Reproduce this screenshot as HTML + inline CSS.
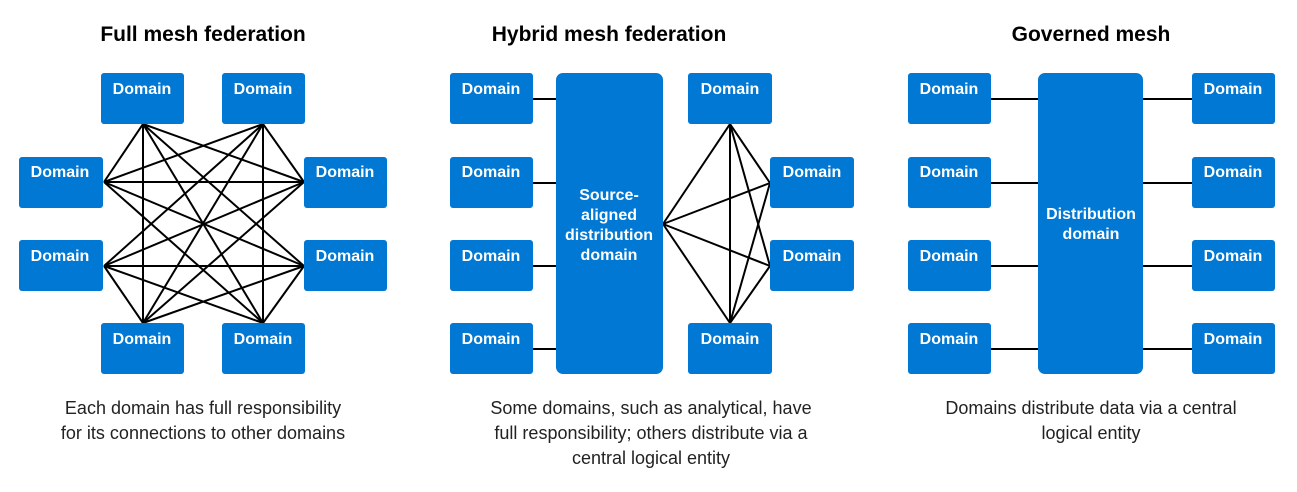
<!DOCTYPE html>
<html><head><style>
body{margin:0;background:#fff;width:1297px;height:492px;overflow:hidden;font-family:"Liberation Sans",sans-serif}
svg{position:absolute;left:0;top:0}
.b{fill:#0078d4}
.t{fill:#fff;font-weight:bold;font-size:16px;text-anchor:middle;font-family:"Liberation Sans",sans-serif}
.h{font-weight:bold;font-size:21px;text-anchor:middle;font-family:"Liberation Sans",sans-serif}
.c{font-size:18px;text-anchor:middle;font-family:"Liberation Sans",sans-serif;fill:#222}
line{stroke:#000;stroke-width:2}
</style></head><body>
<svg width="1297" height="492">
<text class="h" x="203" y="41">Full mesh federation</text>
<text class="h" x="609" y="41">Hybrid mesh federation</text>
<text class="h" x="1091" y="41">Governed mesh</text>
<g>
<line x1="143" y1="124" x2="104" y2="182"/>
<line x1="143" y1="124" x2="304" y2="182"/><line x1="143" y1="124" x2="304" y2="266"/>
<line x1="143" y1="124" x2="143" y2="323"/><line x1="143" y1="124" x2="263" y2="323"/>
<line x1="263" y1="124" x2="104" y2="182"/><line x1="263" y1="124" x2="104" y2="266"/>
<line x1="263" y1="124" x2="304" y2="182"/>
<line x1="263" y1="124" x2="143" y2="323"/><line x1="263" y1="124" x2="263" y2="323"/>
<line x1="104" y1="182" x2="304" y2="182"/><line x1="104" y1="182" x2="304" y2="266"/>
<line x1="104" y1="182" x2="263" y2="323"/>
<line x1="104" y1="266" x2="304" y2="182"/><line x1="104" y1="266" x2="304" y2="266"/>
<line x1="104" y1="266" x2="143" y2="323"/><line x1="104" y1="266" x2="263" y2="323"/>
<line x1="304" y1="182" x2="143" y2="323"/>
<line x1="304" y1="266" x2="143" y2="323"/><line x1="304" y1="266" x2="263" y2="323"/>
</g>
<g>
<rect class="b" x="101" y="73" width="83" height="51" rx="3"/><text class="t" x="142" y="94">Domain</text>
<rect class="b" x="222" y="73" width="83" height="51" rx="3"/><text class="t" x="263" y="94">Domain</text>
<rect class="b" x="19" y="157" width="84" height="51" rx="3"/><text class="t" x="60" y="177">Domain</text>
<rect class="b" x="304" y="157" width="83" height="51" rx="3"/><text class="t" x="345" y="177">Domain</text>
<rect class="b" x="19" y="240" width="84" height="51" rx="3"/><text class="t" x="60" y="261">Domain</text>
<rect class="b" x="304" y="240" width="83" height="51" rx="3"/><text class="t" x="345" y="261">Domain</text>
<rect class="b" x="101" y="323" width="83" height="51" rx="3"/><text class="t" x="142" y="344">Domain</text>
<rect class="b" x="222" y="323" width="83" height="51" rx="3"/><text class="t" x="263" y="344">Domain</text>
</g>
<line x1="533" y1="99" x2="557" y2="99"/><line x1="533" y1="183" x2="557" y2="183"/>
<line x1="533" y1="266" x2="557" y2="266"/><line x1="533" y1="349" x2="557" y2="349"/>
<line x1="663" y1="224" x2="730" y2="124"/><line x1="663" y1="224" x2="770" y2="183"/>
<line x1="663" y1="224" x2="770" y2="266"/><line x1="663" y1="224" x2="730" y2="323"/>
<line x1="730" y1="124" x2="730" y2="323"/><line x1="730" y1="124" x2="770" y2="183"/>
<line x1="730" y1="124" x2="770" y2="266"/><line x1="730" y1="323" x2="770" y2="183"/>
<line x1="730" y1="323" x2="770" y2="266"/>
<rect class="b" x="450" y="73" width="83" height="51" rx="3"/><text class="t" x="491" y="94">Domain</text>
<rect class="b" x="450" y="157" width="83" height="51" rx="3"/><text class="t" x="491" y="177">Domain</text>
<rect class="b" x="450" y="240" width="83" height="51" rx="3"/><text class="t" x="491" y="261">Domain</text>
<rect class="b" x="450" y="323" width="83" height="51" rx="3"/><text class="t" x="491" y="344">Domain</text>
<rect class="b" x="556" y="73" width="107" height="301" rx="7"/>
<text class="t" x="609" y="200">Source-</text><text class="t" x="609" y="220">aligned</text>
<text class="t" x="609" y="240">distribution</text><text class="t" x="609" y="260">domain</text>
<rect class="b" x="688" y="73" width="84" height="51" rx="3"/><text class="t" x="730" y="94">Domain</text>
<rect class="b" x="770" y="157" width="84" height="51" rx="3"/><text class="t" x="812" y="177">Domain</text>
<rect class="b" x="770" y="240" width="84" height="51" rx="3"/><text class="t" x="812" y="261">Domain</text>
<rect class="b" x="688" y="323" width="84" height="51" rx="3"/><text class="t" x="730" y="344">Domain</text>
<line x1="991" y1="99" x2="1039" y2="99"/><line x1="991" y1="183" x2="1039" y2="183"/>
<line x1="991" y1="266" x2="1039" y2="266"/><line x1="991" y1="349" x2="1039" y2="349"/>
<line x1="1143" y1="99" x2="1193" y2="99"/><line x1="1143" y1="183" x2="1193" y2="183"/>
<line x1="1143" y1="266" x2="1193" y2="266"/><line x1="1143" y1="349" x2="1193" y2="349"/>
<rect class="b" x="908" y="73" width="83" height="51" rx="3"/><text class="t" x="949" y="94">Domain</text>
<rect class="b" x="908" y="157" width="83" height="51" rx="3"/><text class="t" x="949" y="177">Domain</text>
<rect class="b" x="908" y="240" width="83" height="51" rx="3"/><text class="t" x="949" y="261">Domain</text>
<rect class="b" x="908" y="323" width="83" height="51" rx="3"/><text class="t" x="949" y="344">Domain</text>
<rect class="b" x="1038" y="73" width="105" height="301" rx="7"/>
<text class="t" x="1091" y="219">Distribution</text><text class="t" x="1091" y="239">domain</text>
<rect class="b" x="1192" y="73" width="83" height="51" rx="3"/><text class="t" x="1233" y="94">Domain</text>
<rect class="b" x="1192" y="157" width="83" height="51" rx="3"/><text class="t" x="1233" y="177">Domain</text>
<rect class="b" x="1192" y="240" width="83" height="51" rx="3"/><text class="t" x="1233" y="261">Domain</text>
<rect class="b" x="1192" y="323" width="83" height="51" rx="3"/><text class="t" x="1233" y="344">Domain</text>
<text class="c" x="203" y="414">Each domain has full responsibility</text>
<text class="c" x="203" y="439">for its connections to other domains</text>
<text class="c" x="651" y="414">Some domains, such as analytical, have</text>
<text class="c" x="651" y="439">full responsibility; others distribute via a</text>
<text class="c" x="651" y="464">central logical entity</text>
<text class="c" x="1091" y="414">Domains distribute data via a central</text>
<text class="c" x="1091" y="439">logical entity</text>
</svg>
</body></html>
